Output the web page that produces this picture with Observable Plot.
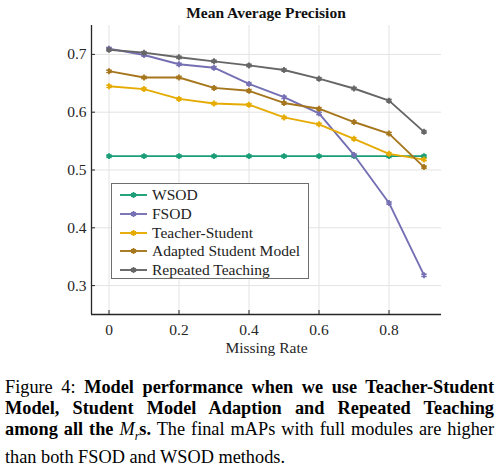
<!DOCTYPE html>
<html>
<head>
<meta charset="utf-8">
<script src="https://cdn.jsdelivr.net/npm/d3@7"></script>
<script src="https://cdn.jsdelivr.net/npm/@observablehq/plot@0.6"></script>
<style>
  html, body { margin: 0; padding: 0; background: #fff; }
  #wrap, #wrap * { font-family: "Liberation Serif", "Times New Roman", Times, serif !important; }
  #wrap { position: relative; width: 500px; color: #000; }
  #title { height: 22px; box-sizing: border-box; padding-top: 4px; padding-left: 32px; line-height: 18px; text-align: center; font-weight: bold; font-size: 15.5px; color: #111; }
  #legend { position: absolute; left: 111px; top: 183px; width: 198px; height: 96px; box-sizing: border-box; border: 1.2px solid #6e6e6e; background: #fff; padding-top: 2px; }
  .row { height: 18.7px; display: flex; align-items: center; font-size: 15.5px; color: #222; }
  .row svg { margin-left: 7px; margin-right: 4px; }
  #caption { margin-top: 17px; padding: 0 6px 0 5px; font-size: 18.3px; line-height: 21px; color: #000; }
  #caption .j { text-align: justify; text-align-last: justify; }
</style>
</head>
<body>
<div id="wrap">
  <div id="title">Mean Average Precision</div>
  <div id="chart"></div>
  <div id="legend"></div>
  <div id="caption">
    <div class="j">Figure 4: <b>Model performance when we use Teacher-Student</b></div>
    <div class="j"><b>Model, Student Model Adaption and Repeated Teaching</b></div>
    <div class="j"><b>among all the <i style="font-weight:normal">M<sub style="font-size:12px">r</sub></i>s.</b> The final mAPs with full modules are higher</div>
    <div>than both FSOD and WSOD methods.</div>
  </div>
</div>
<script>
const missingRate = [0, 0.1, 0.2, 0.3, 0.4, 0.5, 0.6, 0.7, 0.8, 0.9];
const seriesNames = ["WSOD", "FSOD", "Teacher-Student", "Adapted Student Model", "Repeated Teaching"];
const seriesColors = ["#1b9e77", "#7570b3", "#e6ab02", "#a6761d", "#666666"];
const wsod = [0.524, 0.524, 0.524, 0.524, 0.524, 0.524, 0.524, 0.524, 0.524, 0.524];
const fsod = [0.710, 0.699, 0.683, 0.677, 0.649, 0.626, 0.598, 0.526, 0.443, 0.318];
const teacherStudent = [0.645, 0.640, 0.623, 0.615, 0.613, 0.591, 0.579, 0.554, 0.528, 0.518];
const adaptedStudent = [0.671, 0.660, 0.660, 0.642, 0.637, 0.616, 0.606, 0.583, 0.563, 0.505];
const repeatedTeaching = [0.708, 0.703, 0.695, 0.688, 0.681, 0.673, 0.658, 0.641, 0.620, 0.566];
const xTicks = [0, 0.2, 0.4, 0.6, 0.8];
const yTicks = [0.3, 0.4, 0.5, 0.6, 0.7];
const xDomain = [-0.05, 0.95];
const yDomain = [0.25, 0.75];
const xLabel = "Missing Rate";

const allSeries = [wsod, fsod, teacherStudent, adaptedStudent, repeatedTeaching];
const data = [];
allSeries.forEach((vals, i) => vals.forEach((v, j) => data.push({series: seriesNames[i], x: missingRate[j], y: v})));

const W = 500, H = 338, mL = 91, mR = 59, mT = 3, mB = 46;
const plotW = W - mL - mR, plotH = H - mT - mB;
const axisColor = "#262626";
const font = "'Liberation Serif', 'Times New Roman', serif";

const chart = Plot.plot({
  width: W, height: H,
  marginLeft: mL, marginRight: mR, marginTop: mT, marginBottom: mB,
  style: {fontFamily: font, fontSize: "15.5px", color: axisColor, background: "#fff"},
  x: {domain: xDomain},
  y: {domain: yDomain},
  color: {domain: seriesNames, range: seriesColors},
  marks: [
    Plot.gridX(xTicks, {stroke: "#e3e3e3", strokeOpacity: 1, strokeWidth: 1}),
    Plot.gridY(yTicks, {stroke: "#e3e3e3", strokeOpacity: 1, strokeWidth: 1}),
    Plot.axisX(xTicks, {tickSize: 0, tickPadding: 9, tickFormat: d => String(d), label: null, fontSize: "15.5px", fill: axisColor}),
    Plot.axisY(yTicks, {tickSize: 0, tickPadding: 5, tickFormat: d => String(d), label: null, fontSize: "15.5px", fill: axisColor}),
    Plot.tickX(xTicks, {x: d => d, insetTop: plotH - 4, stroke: axisColor, strokeWidth: 1}),
    Plot.tickY(yTicks, {y: d => d, insetRight: plotW - 4, stroke: axisColor, strokeWidth: 1}),
    Plot.ruleX([xDomain[0]], {stroke: axisColor, strokeWidth: 1.3}),
    Plot.ruleY([yDomain[0]], {stroke: axisColor, strokeWidth: 1.3}),
    Plot.line(data, {x: "x", y: "y", z: "series", stroke: "series", strokeWidth: 1.9}),
    Plot.dot(data, {x: "x", y: "y", stroke: "series", symbol: "asterisk", r: 2.8, strokeWidth: 1.8}),
    Plot.text([xLabel], {text: d => d, frameAnchor: "bottom", dy: 34, lineAnchor: "middle", fontSize: "15.5px", fill: axisColor})
  ]
});
document.getElementById("chart").appendChild(chart);

// legend
const legend = document.getElementById("legend");
const sym = d3.symbol(d3.symbolAsterisk, Math.PI * 2.8 * 2.8)();
seriesNames.forEach((name, i) => {
  const row = document.createElement("div");
  row.className = "row";
  const svg = d3.create("svg").attr("width", 29).attr("height", 18);
  svg.append("line").attr("x1", 1).attr("x2", 28).attr("y1", 9).attr("y2", 9)
    .attr("stroke", seriesColors[i]).attr("stroke-width", 1.9);
  svg.append("path").attr("d", sym).attr("transform", "translate(14.5,9)")
    .attr("fill", "none").attr("stroke", seriesColors[i]).attr("stroke-width", 1.8);
  row.appendChild(svg.node());
  const span = document.createElement("span");
  span.textContent = name;
  row.appendChild(span);
  legend.appendChild(row);
});
</script>
</body>
</html>
